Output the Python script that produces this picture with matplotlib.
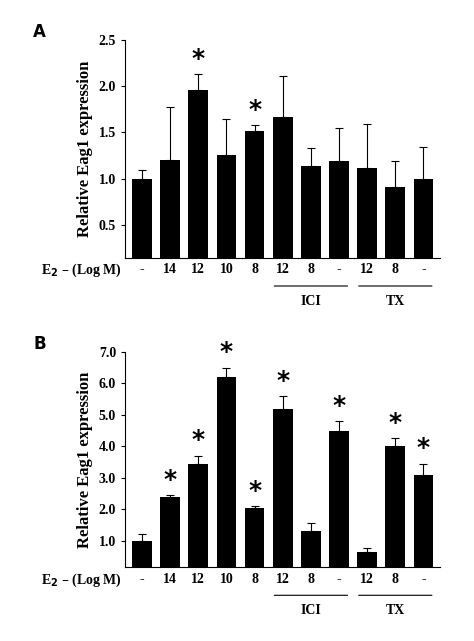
import matplotlib.pyplot as plt

plt.rcParams['font.family'] = ['Liberation Serif', 'DejaVu Serif']
plt.rcParams['font.weight'] = 'bold'

dose_labels = ["-", "14", "12", "10", "8", "12", "8", "-", "12", "8", "-"]

a_means = [1.00, 1.20, 1.96, 1.26, 1.52, 1.67, 1.14, 1.19, 1.12, 0.91, 1.00]
a_errs = [0.10, 0.57, 0.17, 0.38, 0.06, 0.44, 0.19, 0.36, 0.47, 0.28, 0.34]
a_stars = [2, 4]

b_means = [1.00, 2.38, 3.42, 6.20, 2.05, 5.20, 1.30, 4.50, 0.65, 4.00, 3.10]
b_errs = [0.22, 0.07, 0.28, 0.30, 0.05, 0.40, 0.25, 0.30, 0.10, 0.25, 0.35]
b_stars = [1, 2, 3, 4, 5, 7, 9, 10]

fig = plt.figure(figsize=(4.74, 6.41), dpi=100)


def panel(rect, means, errs, stars, ylim, ticks, fmt, letter):
    ax = fig.add_axes(rect)
    x = list(range(len(means)))
    ax.bar(x, means, width=0.7, color='black')
    ax.errorbar(x, means, yerr=[[0] * len(errs), errs], fmt='none',
                ecolor='black', elinewidth=0.8, capsize=3, capthick=0.8)
    top = ylim[1] - ylim[0]
    for i in stars:
        ax.text(i, means[i] + errs[i] + top * 0.015, '*', ha='center',
                va='bottom', fontsize=18, family='DejaVu Sans')
    ax.set_ylim(*ylim)
    ax.set_xlim(-0.6, len(means) - 0.4)
    ax.set_yticks(ticks)
    ax.set_yticklabels([fmt.format(t) for t in ticks], fontsize=10)
    ax.set_xticks(x)
    ax.set_xticklabels(dose_labels, fontsize=10)
    ax.tick_params(axis='x', length=0, pad=4)
    ax.tick_params(axis='y', direction='out', length=3)
    for s in ['top', 'right']:
        ax.spines[s].set_visible(False)
    ax.set_ylabel('Relative Eag1 expression', fontsize=12, fontweight='bold')
    ax.text(-0.01, -0.06, 'E$_2$ – (Log M)', transform=ax.transAxes,
            fontsize=10, fontweight='bold', va='center', ha='right')
    for a, b, name in [(5, 7, 'ICI'), (8, 10, 'TX')]:
        ax.annotate('', xy=(b + 0.4, -0.13), xytext=(a - 0.4, -0.13),
                    xycoords=('data', 'axes fraction'),
                    arrowprops=dict(arrowstyle='-', lw=0.8, color='black'))
        ax.text((a + b) / 2, -0.2, name, ha='center', va='center', fontsize=10,
                fontweight='bold', transform=ax.get_xaxis_transform())
    fig.text(0.07, rect[1] + rect[3] + 0.005, letter, fontsize=12,
             fontweight='bold', family='DejaVu Sans')
    return ax


panel([0.264, 0.598, 0.665, 0.34], a_means, a_errs, a_stars,
      (0.15, 2.5), [0.5, 1.0, 1.5, 2.0, 2.5], '{:.1f}', 'A')
panel([0.264, 0.115, 0.665, 0.336], b_means, b_errs, b_stars,
      (0.15, 7.0), [1, 2, 3, 4, 5, 6, 7], '{:.1f}', 'B')

fig.savefig('out.png', dpi=100)
